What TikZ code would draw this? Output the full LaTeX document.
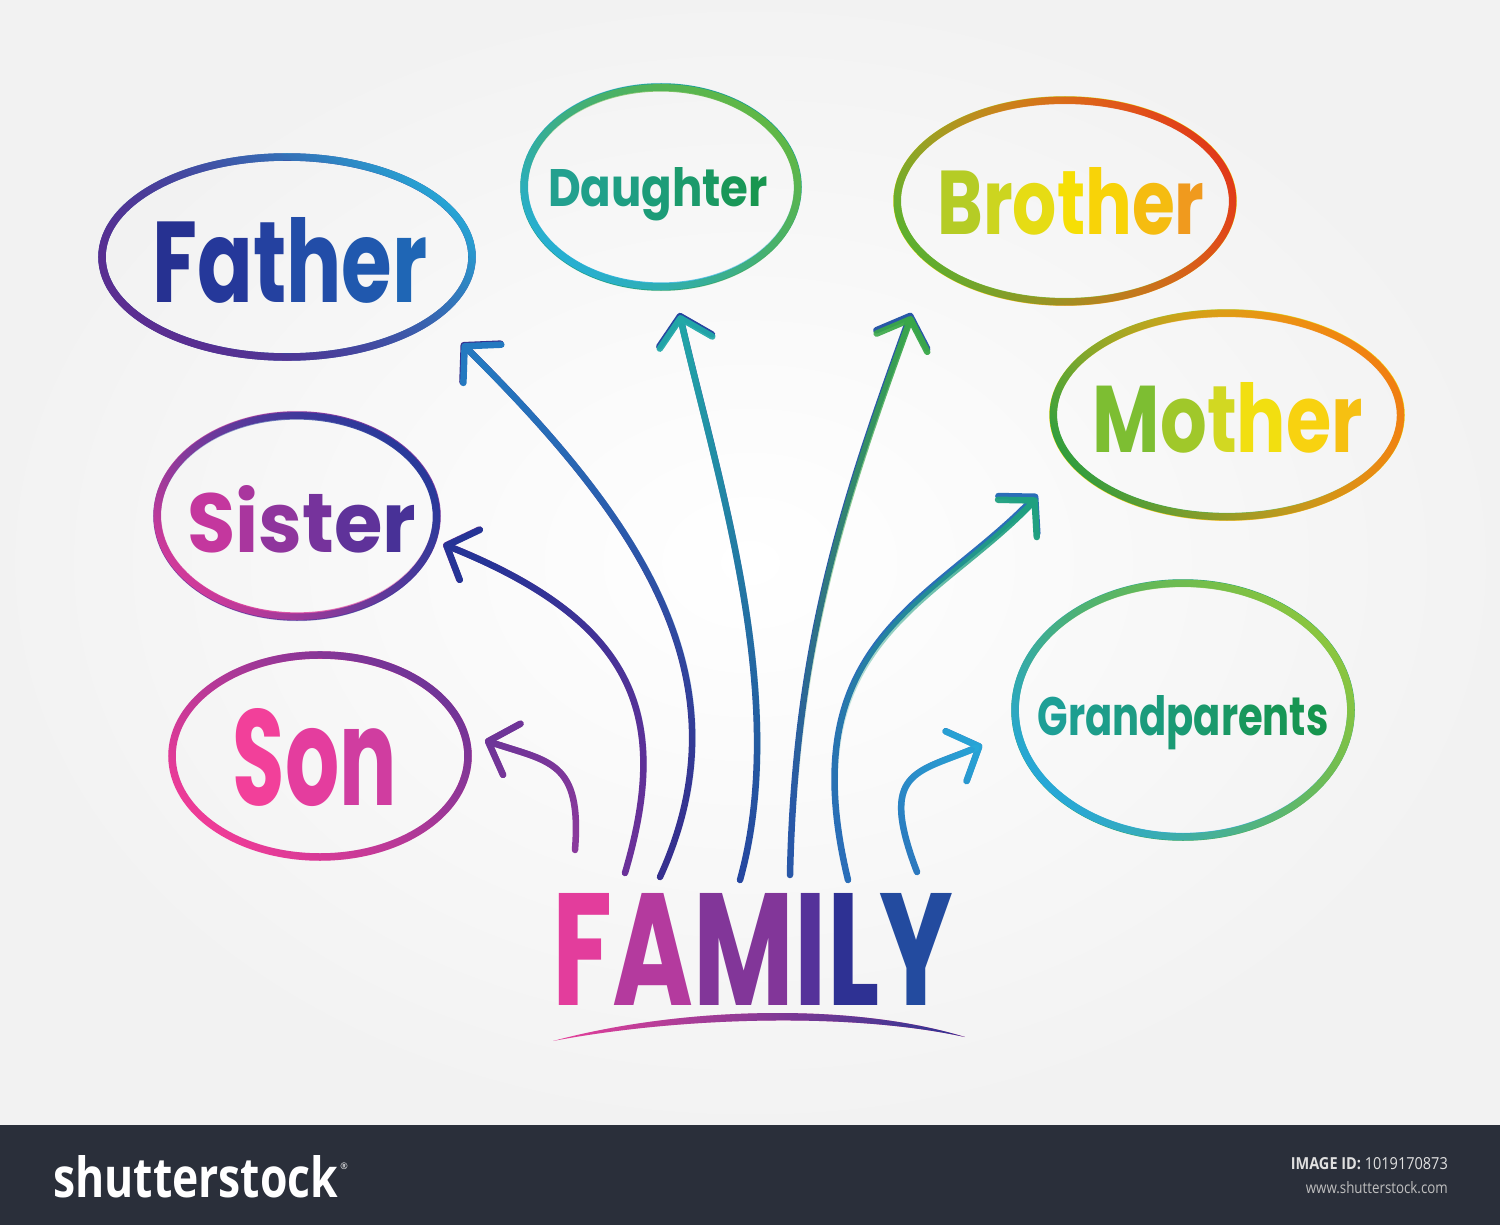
\documentclass[tikz,border=0pt]{standalone}
\usepackage{fontspec}
\usepackage{graphicx}
\usetikzlibrary{shapes.geometric,arrows.meta,fadings}
\newfontfamily\hand{Poppins}
\newfontfamily\logofont{Open Sans}
\tikzfading[name=rampR, left color=transparent!100, right color=transparent!0]
\tikzfading[name=halfR, left color=transparent!100, middle color=transparent!100, right color=transparent!0]
% ellipse stroke colours
\definecolor{faA}{HTML}{2A3596}\definecolor{faB}{HTML}{27A6D6}\definecolor{faC}{HTML}{5C2E91}
\definecolor{daA}{HTML}{1CA08E}\definecolor{daB}{HTML}{27B0D6}\definecolor{daC}{HTML}{62B846}
\definecolor{brA}{HTML}{F7DE12}\definecolor{brB}{HTML}{5BB030}\definecolor{brC}{HTML}{E0381A}
\definecolor{moA}{HTML}{F8E012}\definecolor{moB}{HTML}{2E9E40}\definecolor{moC}{HTML}{F07E12}
\definecolor{grA}{HTML}{1BA070}\definecolor{grB}{HTML}{27A8DC}\definecolor{grC}{HTML}{8CC63F}
\definecolor{siA}{HTML}{7B3AA0}\definecolor{siB}{HTML}{D63C9A}\definecolor{siC}{HTML}{27399A}
\definecolor{soA}{HTML}{F03C98}\definecolor{soB}{HTML}{6F3597}
% arrow colours
\definecolor{arSoA}{HTML}{8A3A9C}\definecolor{arSoB}{HTML}{6E3598}
\definecolor{arSiA}{HTML}{6A3199}\definecolor{arSiB}{HTML}{263496}
\definecolor{arFaA}{HTML}{36308F}\definecolor{arFaB}{HTML}{2479C0}
\definecolor{arDaA}{HTML}{2646A0}\definecolor{arDaB}{HTML}{21A9A8}
\definecolor{arBrA}{HTML}{2958A8}\definecolor{arBrB}{HTML}{3AA848}
\definecolor{arMoA}{HTML}{2A6EB8}\definecolor{arMoB}{HTML}{1FA080}
\definecolor{arGrA}{HTML}{2C78BE}\definecolor{arGrB}{HTML}{28A8D8}
\definecolor{ulA}{HTML}{E8409A}\definecolor{ulB}{HTML}{2A3592}
\definecolor{barcol}{HTML}{2A2F3A}
\newcommand\C[2]{\textcolor[HTML]{#1}{#2}}
% label inside an ellipse: #1 = 2*dx, #2 = raise, #3 width, #4 height, #5 text
\newcommand\lbl[5]{\makebox[0pt]{\hspace*{#1}\raisebox{#2}[0pt][0pt]{\resizebox{#3}{#4}{\hand\bfseries #5}}}}
\newcommand\garrow[5]{%
  \draw[arr,#1,shorten >=#4] #5;
  \draw[arr,#2,shorten >=#4,path fading=rampR,fading angle=#3] #5;}
\begin{document}
\begin{tikzpicture}[x=1pt,y=-1pt,
  bub/.style={ellipse, draw=#1, line width=7.5pt, inner sep=0pt, outer sep=0pt},
  ring/.style={line width=7.5pt},
  arr/.style={line width=6.5pt, line cap=round, -{Straight Barb[length=25pt,width=54pt,round]}}]
\useasboundingbox (0,0) rectangle (1500,1225);
\shade[inner color=white, outer color=black!5] (0,0) rectangle (1500,1125);
\fill[barcol] (0,1125) rectangle (1500,1225);

% bubbles
\node[bub=faA, minimum width=370pt, minimum height=200pt] (father) at (287,257)
  {\lbl{6pt}{-46pt}{275pt}{85pt}{\C{263191}{F}\C{25389A}{a}\C{2441A0}{t}\C{224DA8}{h}\C{2058AE}{e}\C{1F66B5}{r}}};
\node[bub=daA, minimum width=274pt, minimum height=200pt] (daughter) at (661,187)
  {\lbl{-6pt}{-20pt}{220pt}{39pt}{\C{22A08F}{D}\C{20A08A}{a}\C{1E9E82}{u}\C{1C9C78}{g}\C{1B9A6C}{h}\C{1A9862}{t}\C{199758}{e}\C{18964F}{r}}};
\node[bub=brA, minimum width=336pt, minimum height=202pt] (brother) at (1065,201)
  {\lbl{12pt}{-34pt}{267pt}{67pt}{\C{B5CC25}{B}\C{CCD520}{r}\C{E6DC14}{o}\C{F6DF05}{t}\C{F8D308}{h}\C{F5BC10}{e}\C{F09A1E}{r}}};
\node[bub=moA, minimum width=348pt, minimum height=204pt] (mother) at (1227,415)
  {\lbl{2pt}{-37pt}{270pt}{70pt}{\C{7DBE32}{M}\C{A0C82A}{o}\C{D2D822}{t}\C{F2DF10}{h}\C{F8D210}{e}\C{F6C012}{r}}};
\node[bub=grA, minimum width=336pt, minimum height=254pt] (grand) at (1183,710)
  {\lbl{0pt}{-25pt}{291pt}{40pt}{\C{1E9F96}{G}\C{1D9E90}{r}\C{1D9D8A}{a}\C{1C9C84}{n}\C{1B9B7C}{d}\C{1A9A74}{p}\C{1A996C}{a}\C{199864}{r}\C{18975C}{e}\C{179656}{n}\C{179552}{t}\C{16954E}{s}}};
\node[bub=siA, minimum width=280pt, minimum height=202pt] (sister) at (297,516)
  {\lbl{10pt}{-36pt}{229pt}{67pt}{\C{C4379E}{S}\C{A9369E}{i}\C{8F359D}{s}\C{76339C}{t}\C{5F329A}{e}\C{483197}{r}}};
\node[bub=soA, minimum width=296pt, minimum height=202pt] (son) at (320,756)
  {\lbl{-10pt}{-49pt}{164pt}{97pt}{\C{F2409A}{S}\C{E43D9E}{o}\C{D03DA0}{n}}};

% gradient overlays on the bubble outlines
\draw[ring, faB, path fading=rampR, fading angle=30] (father.center) ellipse [x radius=185pt, y radius=100pt];
\draw[ring, faC, path fading=halfR, fading angle=210] (father.center) ellipse [x radius=185pt, y radius=100pt];
\draw[ring, daB, path fading=halfR, fading angle=225] (daughter.center) ellipse [x radius=137pt, y radius=100pt];
\draw[ring, daC, path fading=halfR, fading angle=40] (daughter.center) ellipse [x radius=137pt, y radius=100pt];
\draw[ring, brB, path fading=halfR, fading angle=210] (brother.center) ellipse [x radius=168pt, y radius=101pt];
\draw[ring, brC, path fading=halfR, fading angle=20] (brother.center) ellipse [x radius=168pt, y radius=101pt];
\draw[ring, moB, path fading=halfR, fading angle=210] (mother.center) ellipse [x radius=174pt, y radius=102pt];
\draw[ring, moC, path fading=halfR, fading angle=15] (mother.center) ellipse [x radius=174pt, y radius=102pt];
\draw[ring, grB, path fading=halfR, fading angle=225] (grand.center) ellipse [x radius=168pt, y radius=127pt];
\draw[ring, grC, path fading=halfR, fading angle=30] (grand.center) ellipse [x radius=168pt, y radius=127pt];
\draw[ring, siB, path fading=halfR, fading angle=225] (sister.center) ellipse [x radius=140pt, y radius=101pt];
\draw[ring, siC, path fading=halfR, fading angle=30] (sister.center) ellipse [x radius=140pt, y radius=101pt];
\draw[ring, soB, path fading=halfR, fading angle=40] (son.center) ellipse [x radius=148pt, y radius=101pt];

% central word
\node[anchor=base, inner sep=0pt] (family) at (753,1005)
  {\resizebox{400pt}{112pt}{\hand\bfseries\C{E33D9C}{F}\C{B43A9E}{A}\C{823699}{M}\C{55329A}{I}\C{2E3193}{L}\C{234B9F}{Y}}};
\fill[ulA] (553,1041) .. controls (680,1007) and (850,1002) .. (965,1037)
  .. controls (850,1012) and (680,1017) .. cycle;
\fill[ulB, path fading=rampR] (553,1041) .. controls (680,1007) and (850,1002) .. (965,1037)
  .. controls (850,1012) and (680,1017) .. cycle;

% arrow start points above the central word
\coordinate (sSon) at (575,850);
\coordinate (sSis) at (625,873);
\coordinate (sFa)  at (660,877);
\coordinate (sDa)  at (740,880);
\coordinate (sBr)  at (790,875);
\coordinate (sMo)  at (848,880);
\coordinate (sGr)  at (917,872);

\garrow{arSoA}{arSoB}{120}{22pt}{(sSon) .. controls (582,760) and (549,762) .. (son.9)}
\garrow{arSiA}{arSiB}{120}{11pt}{(sSis) .. controls (670,720) and (640,623) .. (sister.-10)}
\garrow{arFaA}{arFaB}{110}{37pt}{(sFa) .. controls (750,680) and (640,520) .. (father.-22)}
\garrow{arDaA}{arDaB}{95}{27pt}{(sDa) .. controls (790,700) and (718,481) .. (daughter.-83)}
\garrow{arBrA}{arBrB}{75}{55pt}{(sBr) .. controls (795,640) and (846,494) .. (brother.204)}
\garrow{arMoA}{arMoB}{45}{48pt}{(sMo) .. controls (790,640) and (932,604) .. (mother.196)}
\garrow{arGrA}{arGrB}{45}{38pt}{(sGr) .. controls (878,770) and (916,773) .. (grand.187)}

% bottom bar texts
\node[anchor=base west, inner sep=0pt, text=white] (logo) at (53,1197)
  {\resizebox{285pt}{42pt}{\logofont\bfseries shutterstock}};
\node[inner sep=0pt, text=white, font=\logofont\fontsize{9}{9}\selectfont] (reg) at (344,1166) {®};
\node[anchor=base east, inner sep=0pt, text=black!12] (imgid) at (1448,1169)
  {\resizebox{157pt}{12pt}{\logofont\textbf{IMAGE ID:} 1019170873}};
\node[anchor=base east, inner sep=0pt, text=black!25] (web) at (1448,1193)
  {\resizebox{142pt}{12pt}{\logofont www.shutterstock.com}};
\end{tikzpicture}
\end{document}
